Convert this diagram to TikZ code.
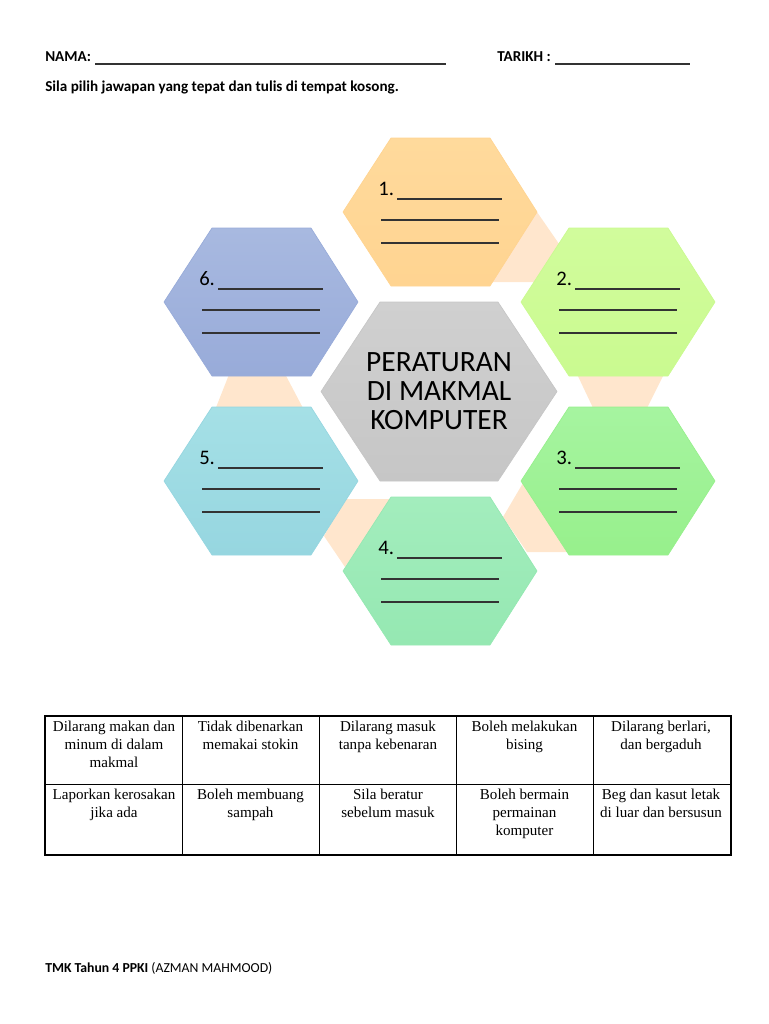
\documentclass[tikz,border=0pt]{standalone}
\usepackage{fontspec}
\setmainfont{Carlito}
\newfontfamily\cellfont{Liberation Serif}
\usetikzlibrary{positioning}

\definecolor{peach}{HTML}{FFE6CD}
\definecolor{orangeT}{HTML}{FFDA9C}
\definecolor{orangeB}{HTML}{FFD491}
\definecolor{limeT}{HTML}{D1FC9C}
\definecolor{limeB}{HTML}{CAFA90}
\definecolor{greenT}{HTML}{A6F4A0}
\definecolor{greenB}{HTML}{97F08C}
\definecolor{mintT}{HTML}{A3EDBD}
\definecolor{mintB}{HTML}{95E8B2}
\definecolor{aquaT}{HTML}{A5E0E6}
\definecolor{aquaB}{HTML}{96D6E0}
\definecolor{blueT}{HTML}{A8B9E0}
\definecolor{blueB}{HTML}{98ABD9}
\definecolor{greyT}{HTML}{D0D0D0}
\definecolor{greyB}{HTML}{C6C6C6}

\tikzset{
	headtext/.style={anchor=west, inner sep=0pt, font=\fontsize{11.35}{13}\selectfont\bfseries},
	foottext/.style={anchor=west, inner sep=0pt, font=\fontsize{10.3}{13}\selectfont\bfseries},
	numtext/.style={anchor=west, inner sep=0pt, font=\fontsize{15.5}{18}\selectfont},
	celltext/.style={anchor=north, inner sep=0pt, align=center, font=\fontsize{11.3}{13.5}\selectfont\cellfont},
	blank/.style={line width=0.9pt, black!80},
	bridge/.style={fill=peach, draw=none}
}

\begin{document}
\begin{tikzpicture}[x=0.75pt, y=-0.75pt]

	\useasboundingbox (0,0) rectangle (768,1024);

	% heading
	\node[headtext] (nama) at (45,57) {NAMA:};
	\draw[blank] (95,64) -- (446,64);
	\node[headtext] (tarikh) at (497,57) {TARIKH :};
	\draw[blank] (555,64) -- (690,64);
	\node[headtext] (arahan) at (45,87) {Sila pilih jawapan yang tepat dan tulis di tempat kosong.};

	% pale pieces behind the hexagons
	\fill[bridge] (537,212) -- (566,254) -- (534,282) -- (492,282) -- cycle;
	\fill[bridge] (576,372) -- (665,372) -- (646,410) -- (594,410) -- cycle;
	\fill[bridge] (523,483) -- (503,517) -- (527,552) -- (572,552) -- cycle;
	\fill[bridge] (345,499) -- (392,499) -- (345,567) -- (324,536) -- cycle;
	\fill[bridge] (230,372) -- (284,372) -- (304,410) -- (215,410) -- cycle;

	% the six hexagons
	\foreach \num/\cx/\cy/\colA/\colB in {1/440/212/orangeT/orangeB, 2/618/302/limeT/limeB, 3/618/481/greenT/greenB, 4/440/571/mintT/mintB, 5/261/481/aquaT/aquaB, 6/261/302/blueT/blueB}{
		\draw[draw=\colB, line width=0.5pt, top color=\colA, bottom color=\colB] (\cx-97,\cy) -- (\cx-49,\cy-74) -- (\cx+50,\cy-74) -- (\cx+97,\cy) -- (\cx+50,\cy+74) -- (\cx-49,\cy+74) -- cycle;
		\node[numtext] (num\num) at (\cx-62,\cy-23) {\num.};
		\draw[blank] (\cx-43,\cy-13) -- (\cx+62,\cy-13);
		\draw[blank] (\cx-59,\cy+8) -- (\cx+59,\cy+8);
		\draw[blank] (\cx-59,\cy+31) -- (\cx+59,\cy+31);
	}

	% centre
	\draw[draw=greyB, line width=0.5pt, top color=greyT, bottom color=greyB] (321,391.5) -- (380,302) -- (498,302) -- (557,391.5) -- (498,481) -- (380,481) -- cycle;
	\node[align=center, inner sep=0pt, font=\fontsize{22.1}{21.8}\selectfont] (tajuk) at (439,391) {PERATURAN\\DI MAKMAL\\KOMPUTER};

	% table
	\draw[line width=1.3pt] (45,716) rectangle (731,855);
	\draw[line width=0.7pt] (45,784.5) -- (731,784.5);
	\foreach \colx in {182.5,319,456.5,593}{
		\draw[line width=0.7pt] (\colx,716) -- (\colx,855);
	}

	\node[celltext] (cellA) at (114,720.5) {Dilarang makan dan\\minum di dalam\\makmal};
	\node[celltext] (cellB) at (250.5,720.5) {Tidak dibenarkan\\memakai stokin};
	\node[celltext] (cellC) at (388,720.5) {Dilarang masuk\\tanpa kebenaran};
	\node[celltext] (cellD) at (524.5,720.5) {Boleh melakukan\\bising};
	\node[celltext] (cellE) at (661,720.5) {Dilarang berlari,\\dan bergaduh};
	\node[celltext] (cellF) at (114,788.5) {Laporkan kerosakan\\jika ada};
	\node[celltext] (cellG) at (250.5,788.5) {Boleh membuang\\sampah};
	\node[celltext] (cellH) at (388,788.5) {Sila beratur\\sebelum masuk};
	\node[celltext] (cellI) at (524.5,788.5) {Boleh bermain\\permainan\\komputer};
	\node[celltext] (cellJ) at (661,788.5) {Beg dan kasut letak\\di luar dan bersusun};

	% footer
	\node[foottext] (kaki) at (45,968) {TMK Tahun 4 PPKI \textmd{(AZMAN MAHMOOD)}};

\end{tikzpicture}
\end{document}
